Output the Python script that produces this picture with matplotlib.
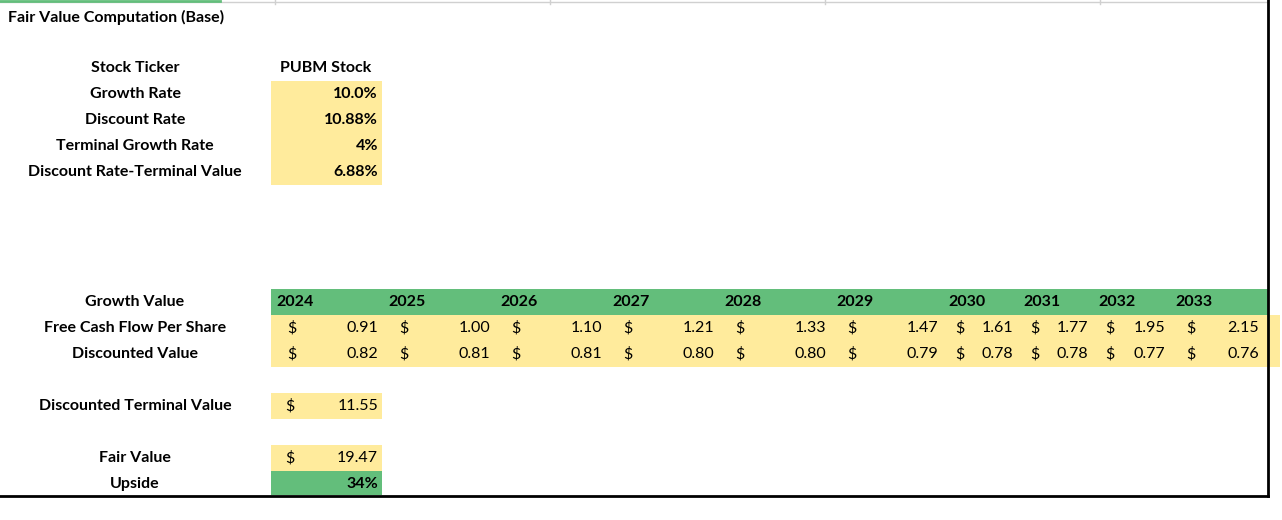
import matplotlib
matplotlib.use("Agg")
import matplotlib.pyplot as plt
from matplotlib.patches import Rectangle

title = "Fair Value Computation (Base)"
param_labels = ["Stock Ticker", "Growth Rate", "Discount Rate", "Terminal Growth Rate", "Discount Rate-Terminal Value"]
param_values = ["PUBM Stock", "10.0%", "10.88%", "4%", "6.88%"]
years = ["2024", "2025", "2026", "2027", "2028", "2029", "2030", "2031", "2032", "2033"]
fcf = [0.91, 1.00, 1.10, 1.21, 1.33, 1.47, 1.61, 1.77, 1.95, 2.15]
disc = [0.82, 0.81, 0.81, 0.80, 0.80, 0.79, 0.78, 0.78, 0.77, 0.76]
terminal_value = 11.55
fair_value = 19.47
upside = "34%"

W, H = 1282, 520
fig = plt.figure(figsize=(W/100, H/100), dpi=100)
ax = fig.add_axes([0, 0, 1, 1])
ax.set_xlim(0, W); ax.set_ylim(H, 0); ax.axis("off")
plt.rcParams['font.family'] = ['Lato', 'DejaVu Sans']
FS = 11.5
YEL = "#FFEB9C"; GRN = "#63BE7B"

# top gridline strip
ax.plot([0, 1268], [2, 2], color="#d0d0d0", lw=1)
ax.plot([0, 220], [1, 1], color="#63BE7B", lw=2)
for gx in [275, 550, 825, 1100]:
    ax.plot([gx, gx], [0, 4], color="#d0d0d0", lw=1)

ax.text(8, 17, title, fontsize=FS, fontweight="bold", va="center")

LX = 135
rows_y = [68, 94, 120, 146, 172]
for i, (lab, val) in enumerate(zip(param_labels, param_values)):
    y = rows_y[i]
    ax.text(LX, y, lab, fontsize=FS, fontweight="bold", ha="center", va="center")
    if i == 0:
        ax.text(326, y, val, fontsize=FS, fontweight="bold", ha="center", va="center")
    else:
        ax.add_patch(Rectangle((271, y-13), 111, 26, color=YEL, lw=0))
        ax.text(378, y, val, fontsize=FS, fontweight="bold", ha="right", va="center")

col_left = [271, 383, 495, 607, 719, 831, 943, 1018, 1093, 1170]
col_right = col_left[1:] + [1264]
# green header row and yellow rows
ax.add_patch(Rectangle((271, 289), 1268-271, 26, color=GRN, lw=0))
ax.add_patch(Rectangle((271, 315), 1280-271, 52, color=YEL, lw=0))
ax.text(LX, 302, "Growth Value", fontsize=FS, fontweight="bold", ha="center", va="center")
ax.text(LX, 328, "Free Cash Flow Per Share", fontsize=FS, fontweight="bold", ha="center", va="center")
ax.text(LX, 354, "Discounted Value", fontsize=FS, fontweight="bold", ha="center", va="center")
for j, yr in enumerate(years):
    l, r = col_left[j], col_right[j]
    ax.text(l+5, 302, yr, fontsize=FS, fontweight="bold", va="center")
    dx = 16 if j < 6 or j == 9 else 12
    for y, v in [(328, fcf[j]), (354, disc[j])]:
        ax.text(l+dx, y, "$", fontsize=FS, va="center")
        ax.text(r-5, y, f"{v:.2f}", fontsize=FS, ha="right", va="center")

ax.text(LX, 406, "Discounted Terminal Value", fontsize=FS, fontweight="bold", ha="center", va="center")
ax.add_patch(Rectangle((271, 393), 111, 26, color=YEL, lw=0))
ax.text(285, 406, "$", fontsize=FS, va="center")
ax.text(378, 406, f"{terminal_value:.2f}", fontsize=FS, ha="right", va="center")

ax.text(LX, 458, "Fair Value", fontsize=FS, fontweight="bold", ha="center", va="center")
ax.add_patch(Rectangle((271, 445), 111, 26, color=YEL, lw=0))
ax.text(285, 458, "$", fontsize=FS, va="center")
ax.text(378, 458, f"{fair_value:.2f}", fontsize=FS, ha="right", va="center")

ax.text(LX, 484, "Upside", fontsize=FS, fontweight="bold", ha="center", va="center")
ax.add_patch(Rectangle((271, 471), 111, 24, color=GRN, lw=0))
ax.text(378, 484, upside, fontsize=FS, fontweight="bold", ha="right", va="center")

# borders
ax.plot([1268, 1268], [0, 496], color="black", lw=2)
ax.plot([0, 1268], [495.5, 495.5], color="black", lw=2)

fig.savefig("out.png", dpi=100)
